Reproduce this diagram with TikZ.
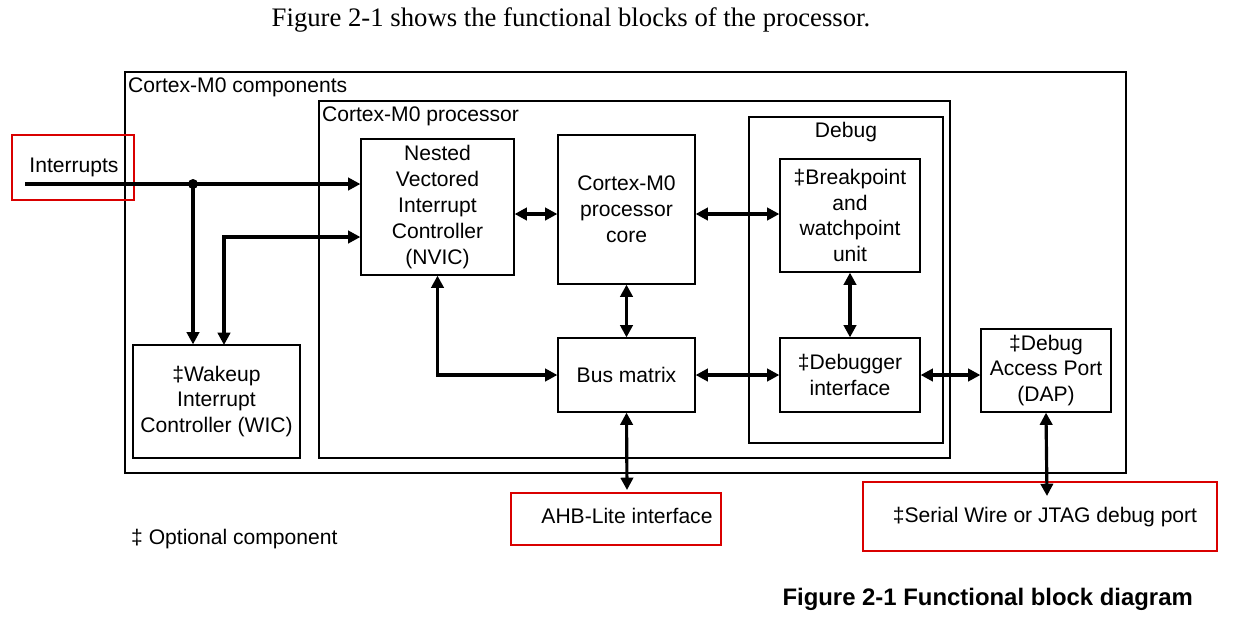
\documentclass[tikz,border=0pt]{standalone}
\usepackage{fontspec}
\setmainfont{Liberation Sans}
\newfontfamily\titlefont{Liberation Serif}
\usetikzlibrary{arrows.meta}
\tikzset{
  blk/.style={draw=black, line width=0.7pt, align=center, inner sep=0pt, font=\fontsize{12}{14.7}\selectfont},
  frame/.style={draw=black, line width=0.7pt},
  hl/.style={draw=red!85!black, line width=1.2pt},
  bus/.style={line width=1.8pt, {Triangle[length=7pt,width=7pt]}-{Triangle[length=7pt,width=7pt]}},
  sig/.style={line width=1.8pt, -{Triangle[length=7pt,width=7pt]}},
  txt/.style={font=\fontsize{12}{14}\selectfont},
  lbl/.style={txt, anchor=north west, inner sep=1pt}
}
\begin{document}
\begin{tikzpicture}[x=0.02cm,y=-0.02cm]
	\useasboundingbox (0,0) rectangle (1241,620);
	
	\node[font=\titlefont\fontsize{15.2}{17}\selectfont] (title) at (571,20) {Figure 2-1 shows the functional blocks of the processor.};
	
	% containers
	\draw[frame] (125,72) rectangle (1126,473);
	\node[lbl] (comp) at (126,76) {Cortex-M0 components};
	\draw[frame] (319,101) rectangle (950,458);
	\node[lbl] (proc) at (320,105) {Cortex-M0 processor};
	\draw[frame] (749,117) rectangle (943,443);
	\node[txt] (dbg) at (846,132) {Debug};
	
	% blocks
	\node[blk, minimum width=3.06cm, minimum height=2.72cm] (nvic) at (437.5,207) {Nested\\Vectored\\Interrupt\\Controller\\(NVIC)};
	\node[blk, minimum width=2.74cm, minimum height=2.98cm] (core) at (626.5,209.5) {Cortex-M0\\processor\\core};
	\node[blk, minimum width=2.8cm, minimum height=2.26cm] (bpu) at (850,215.5) {‡Breakpoint\\and\\watchpoint\\unit};
	\node[blk, minimum width=2.74cm, minimum height=1.48cm] (bus) at (626.5,375) {Bus matrix};
	\node[blk, minimum width=2.8cm, minimum height=1.48cm] (dif) at (850,375) {‡Debugger\\interface};
	\node[blk, minimum width=3.34cm, minimum height=2.26cm] (wic) at (216.5,401.5) {‡Wakeup\\Interrupt\\Controller (WIC)};
	\node[blk, minimum width=2.6cm, minimum height=1.66cm] (dap) at (1046,370.5) {‡Debug\\Access Port\\(DAP)};
	
	% external
	\node[txt] (irq) at (74,167) {Interrupts};
	\draw[hl] (12,135) rectangle (134,200);
	\node[txt] (ahb) at (627,516) {AHB-Lite interface};
	\draw[hl] (511,493) rectangle (721,545);
	\node[txt] (swj) at (1045,517) {‡Serial Wire or JTAG debug port};
	\draw[hl] (863,482) rectangle (1217,551);
	\coordinate (irqin) at (25,184);
	\coordinate (tap) at (193,184);
	\coordinate (ahbp) at (627,490);
	\coordinate (swjp) at (1047,496);
	
	% connectors
	\draw[sig] (irqin) -- (nvic.west |- irqin);
	\fill (tap) circle (5);
	\draw[sig] (tap) -- (tap |- wic.north);
	\draw[bus] (224,345) |- (nvic.west |- 0,237);
	\draw[bus] (nvic.east |- 0,214) -- (core.west |- 0,214);
	\draw[bus] (core.east |- 0,214) -- (bpu.west |- 0,214);
	\draw[bus] (core.south) -- (bus.north);
	\draw[bus] (nvic.south) |- (bus.west);
	\draw[bus] (bus.east) -- (dif.west);
	\draw[bus] (bpu.south) -- (dif.north);
	\draw[bus] (dif.east) -- (dap.west |- dif.east);
	\draw[bus] (bus.south) -- (ahbp);
	\draw[bus] (dap.south) -- (swjp);
	
	\node[txt, anchor=west] (note) at (125,539) {‡ Optional component};
	\node[anchor=east, font=\bfseries\fontsize{13.6}{15}\selectfont] (cap) at (1199,599) {Figure 2-1 Functional block diagram};
\end{tikzpicture}
\end{document}
